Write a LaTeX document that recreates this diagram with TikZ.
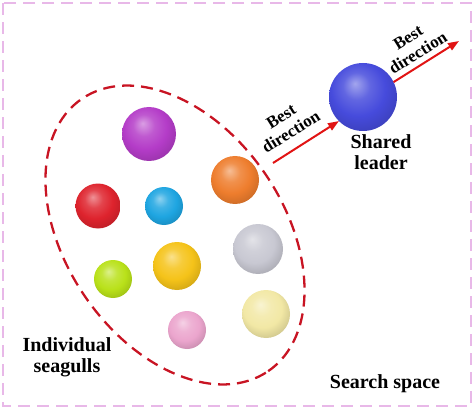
\documentclass[tikz,border=0pt]{standalone}
\usepackage{fontspec}
\setmainfont{Liberation Serif}
\usetikzlibrary{arrows.meta}
\makeatletter
\pgfdeclareradialshading[tikz@ball]{softball}{\pgfqpoint{-6bp}{10bp}}{color(0bp)=(tikz@ball!50!white); color(10bp)=(tikz@ball!85!white); color(20bp)=(tikz@ball); color(31bp)=(tikz@ball!85!black); color(50bp)=(tikz@ball!65!black)}
\makeatother
\definecolor{framepink}{RGB}{232,184,232}
\definecolor{ellred}{RGB}{200,20,35}
\definecolor{arrred}{RGB}{225,20,20}
\definecolor{cPurple}{RGB}{180,60,200}
\definecolor{cOrange}{RGB}{238,125,45}
\definecolor{cRed}{RGB}{222,35,45}
\definecolor{cBlue}{RGB}{30,165,225}
\definecolor{cGray}{RGB}{200,200,210}
\definecolor{cYellow}{RGB}{245,195,25}
\definecolor{cLime}{RGB}{185,225,25}
\definecolor{cPale}{RGB}{242,232,165}
\definecolor{cPink}{RGB}{235,165,205}
\definecolor{cLeader}{RGB}{70,75,220}
\tikzset{
  sph/.style={circle, inner sep=0pt, outer sep=0pt, ball color=#1, shading=softball},
  bigtxt/.style={font=\fontsize{20}{21}\selectfont\bfseries, align=center, inner sep=0pt},
  dirtxt/.style={font=\fontsize{17}{18.5}\selectfont\bfseries, align=center, inner sep=0pt, rotate=32},
  bestarrow/.style={arrred, line width=2pt, -{Triangle[length=11pt,width=8pt]}},
}
\begin{document}
\begin{tikzpicture}[x=1pt,y=-1pt]
\useasboundingbox (0,0) rectangle (474,409);
% frame
\draw[framepink, line width=2pt, dash pattern=on 12pt off 7pt] (3,3) rectangle (471,406);
% group ellipse
\draw[ellred, line width=2.3pt, dash pattern=on 12pt off 7pt, rotate around={-55.6:(175,235)}]
  (175,235) ellipse [x radius=165pt, y radius=109pt];
% individuals
\node[sph=cPurple, minimum size=54pt] (purple) at (149,134) {};
\node[sph=cOrange, minimum size=48pt] (orange) at (235,180) {};
\node[sph=cRed, minimum size=45pt] (red) at (98,206) {};
\node[sph=cBlue, minimum size=38pt] (blue) at (164,206) {};
\node[sph=cGray, minimum size=50pt] (gray) at (258,249) {};
\node[sph=cYellow, minimum size=48pt] (yellow) at (177,266) {};
\node[sph=cLime, minimum size=38pt] (lime) at (113,279) {};
\node[sph=cPale, minimum size=48pt] (pale) at (266,314) {};
\node[sph=cPink, minimum size=38pt] (pink) at (187,330) {};
% leader
\node[sph=cLeader, minimum size=68pt] (leader) at (363,97) {};
% arrows
\coordinate (a1s) at (273,163);
\coordinate (a2e) at (459,41);
\draw[bestarrow] (a1s) -- (leader.225);
\draw[bestarrow] (leader.26) -- (a2e);
% labels
\node[dirtxt] (lab1) at (286,124) {Best\\direction};
\node[dirtxt] (lab2) at (413,45) {Best\\direction};
\node[bigtxt] (leadtxt) at (381,152) {Shared\\leader};
\node[bigtxt] (indtxt) at (67,357) {Individual\\seagulls};
\node[bigtxt] (sstxt) at (385,384) {Search space};
\end{tikzpicture}
\end{document}
